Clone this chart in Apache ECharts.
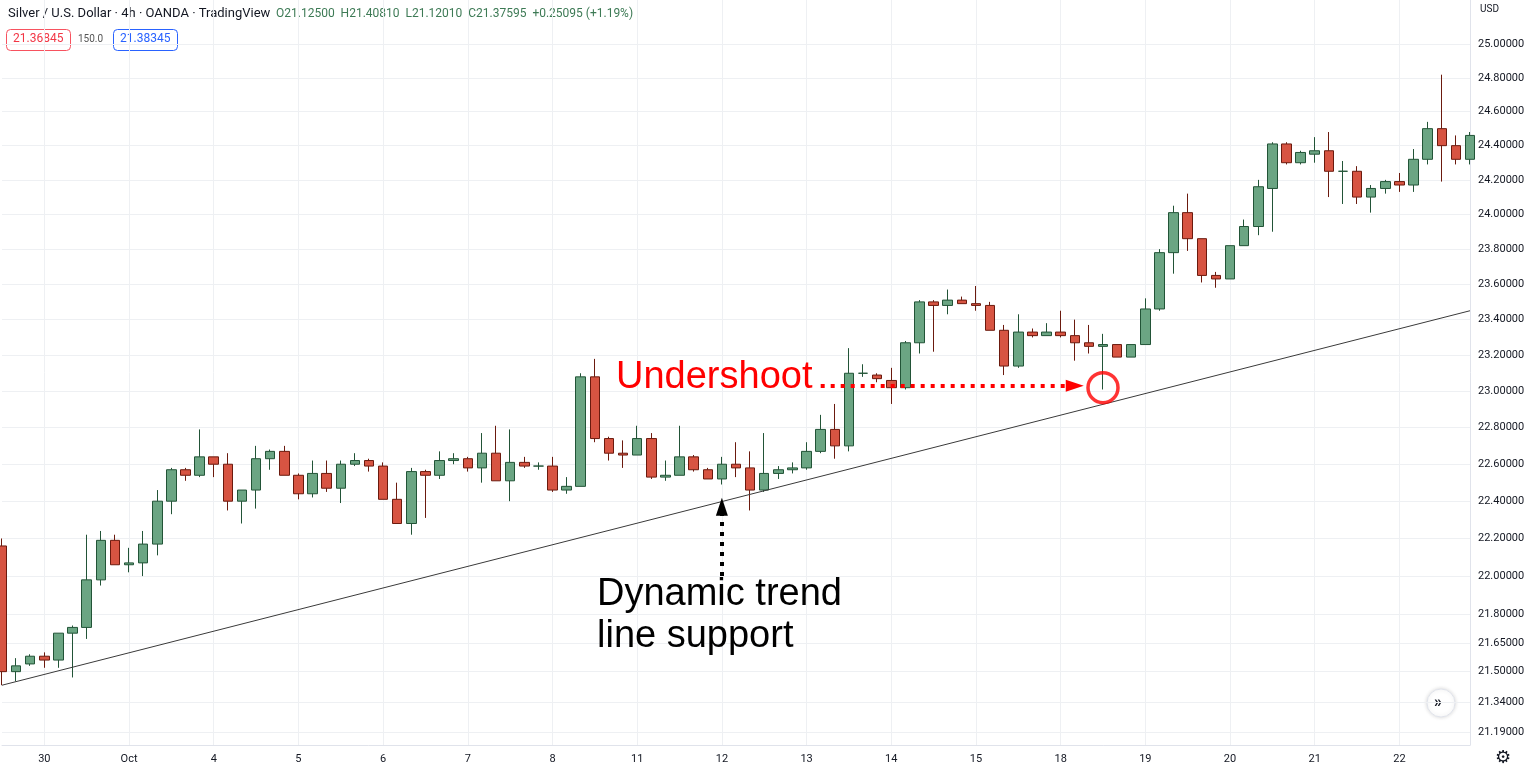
<!DOCTYPE html>
<html><head><meta charset="utf-8">
<script src="https://cdn.jsdelivr.net/npm/echarts@6/dist/echarts.min.js"></script>
<style>html,body{margin:0;padding:0;background:#fff}#c{width:1536px;height:774px}</style>
</head><body><div id="c"></div>
<script>
const dayLabels=['30','Oct','4','5','6','7','8','11','12','13','14','15','18','19','20','21','22'];
const opens=[22.16,21.50,21.54,21.58,21.56,21.70,21.73,21.98,22.19,22.06,22.07,22.17,22.40,22.57,22.54,22.64,22.60,22.40,22.46,22.63,22.67,22.54,22.44,22.55,22.47,22.60,22.62,22.59,22.41,22.28,22.56,22.54,22.62,22.63,22.58,22.66,22.51,22.61,22.59,22.59,22.46,22.48,23.08,22.74,22.66,22.65,22.74,22.53,22.54,22.64,22.57,22.52,22.60,22.58,22.46,22.55,22.57,22.58,22.67,22.79,22.70,23.10,23.09,23.06,23.02,23.27,23.50,23.48,23.51,23.49,23.48,23.34,23.14,23.33,23.31,23.33,23.31,23.27,23.25,23.26,23.19,23.26,23.46,23.78,24.01,23.86,23.65,23.63,23.82,23.93,24.15,24.41,24.30,24.35,24.37,24.25,24.25,24.10,24.15,24.19,24.17,24.32,24.50,24.40,24.32];
const closes=[21.50,21.53,21.58,21.56,21.70,21.73,21.98,22.19,22.06,22.07,22.17,22.40,22.57,22.54,22.64,22.60,22.40,22.46,22.63,22.67,22.54,22.44,22.55,22.47,22.60,22.62,22.59,22.41,22.28,22.56,22.54,22.62,22.63,22.58,22.66,22.51,22.61,22.59,22.59,22.46,22.48,23.08,22.74,22.66,22.65,22.74,22.53,22.54,22.64,22.57,22.52,22.60,22.58,22.46,22.55,22.57,22.58,22.67,22.79,22.70,23.10,23.10,23.07,23.02,23.27,23.50,23.48,23.51,23.49,23.48,23.34,23.14,23.33,23.31,23.33,23.31,23.27,23.25,23.26,23.19,23.26,23.46,23.78,24.01,23.86,23.65,23.63,23.82,23.93,24.16,24.41,24.30,24.36,24.37,24.25,24.25,24.10,24.15,24.19,24.17,24.32,24.50,24.40,24.32,24.46];
const lows=[21.43,21.45,21.53,21.52,21.52,21.47,21.67,21.95,22.06,22.02,22.00,22.11,22.33,22.51,22.53,22.53,22.35,22.28,22.36,22.57,22.54,22.41,22.42,22.45,22.39,22.59,22.56,22.41,22.28,22.22,22.31,22.52,22.60,22.56,22.50,22.51,22.40,22.58,22.57,22.45,22.44,22.48,22.72,22.62,22.58,22.65,22.52,22.51,22.54,22.56,22.52,22.49,22.53,22.35,22.45,22.52,22.55,22.57,22.66,22.63,22.67,23.08,23.05,22.93,23.01,23.21,23.22,23.43,23.49,23.45,23.34,23.09,23.13,23.30,23.31,23.30,23.17,23.21,23.01,23.19,23.19,23.26,23.45,23.66,23.79,23.61,23.58,23.63,23.82,23.88,23.90,24.29,24.29,24.30,24.10,24.06,24.06,24.01,24.12,24.13,24.13,24.29,24.19,24.29,24.29];
const highs=[22.20,21.57,21.59,21.60,21.70,21.74,22.22,22.24,22.22,22.15,22.24,22.46,22.58,22.58,22.79,22.64,22.66,22.46,22.70,22.68,22.70,22.55,22.62,22.62,22.62,22.66,22.63,22.61,22.50,22.58,22.57,22.67,22.66,22.64,22.77,22.81,22.79,22.64,22.61,22.64,22.53,23.10,23.18,22.75,22.73,22.81,22.77,22.62,22.81,22.65,22.58,22.64,22.72,22.67,22.77,22.59,22.61,22.72,22.87,22.93,23.24,23.15,23.10,23.13,23.28,23.51,23.51,23.57,23.53,23.59,23.50,23.37,23.43,23.35,23.38,23.45,23.40,23.37,23.32,23.26,23.26,23.52,23.80,24.05,24.12,23.86,23.67,23.82,23.97,24.20,24.42,24.42,24.37,24.45,24.48,24.31,24.28,24.17,24.20,24.24,24.38,24.54,24.82,24.46,24.48];
const priceTicks=[25.00,24.80,24.60,24.40,24.20,24.00,23.80,23.60,23.40,23.20,23.00,22.80,22.60,22.40,22.20,22.00,21.80,21.65,21.50,21.34,21.19];
const trendLine=[[0,21.43],[104,23.45]];
const undershootArrow=[[58.1,23.03],[76.1,23.03]];
const undershootPoint=[78,23.02];
const supportArrow=[[51.2,22.00],[51.2,22.37]];

const cats=opens.map((_,i)=>{const d=i<3?'29':dayLabels[Math.floor((i-3)/6)];return d+'#'+i;});
const ohlc=opens.map((o,i)=>[o,closes[i],lows[i],highs[i]]);
const showIdx=i=>i>=3&&(i-3)%6===0;

const chart=echarts.init(document.getElementById('c'));
chart.setOption({
  animation:false,
  grid:{left:2,right:66,top:0,bottom:29},
  xAxis:{type:'category',data:cats,boundaryGap:false,
    axisLine:{show:true,lineStyle:{color:'#e0e3eb'}},axisTick:{show:false},
    axisLabel:{interval:(i)=>showIdx(i),formatter:v=>v.split('#')[0],color:'#131722',fontSize:11,fontFamily:'Roboto',margin:9},
    splitLine:{show:true,interval:(i)=>showIdx(i),lineStyle:{color:'#eef0f3'}}},
  yAxis:{type:'log',logBase:10,min:21.124,max:25.27,position:'right',
    axisLine:{show:true,lineStyle:{color:'#e0e3eb'}},axisTick:{show:false},axisLabel:{show:false},splitLine:{show:false}},
  series:[
    {type:'line',data:[],z:0,silent:true,
      markLine:{silent:true,symbol:'none',z:0,
        lineStyle:{color:'#eef0f3',width:1,type:'solid'},
        label:{position:'end',distance:8,color:'#131722',fontSize:11,fontFamily:'Roboto',formatter:p=>p.value.toFixed(5)},
        data:priceTicks.map(v=>({yAxis:v}))}},
    {type:'candlestick',data:ohlc,barWidth:10,z:3,
      itemStyle:{color:'#6ba583',color0:'#d75442',borderColor:'#225437',borderColor0:'#6b1a0e',borderWidth:1}},
    {type:'line',data:trendLine,symbol:'none',lineStyle:{color:'#3a3a3a',width:1},z:4},
    {type:'line',data:undershootArrow,symbol:'none',lineStyle:{width:0},z:5,
      markLine:{silent:true,symbol:['none','triangle'],symbolSize:[12,18],
        lineStyle:{color:'#ff0000',width:4,type:[4,6]},label:{show:false},
        data:[[{coord:undershootArrow[0]},{coord:undershootArrow[1]}]]}},
    {type:'line',data:supportArrow,symbol:'none',lineStyle:{width:0},z:5,
      markLine:{silent:true,symbol:['none','triangle'],symbolSize:[12,18],
        lineStyle:{color:'#000',width:4,type:[4,6]},label:{show:false},
        data:[[{coord:supportArrow[0]},{coord:supportArrow[1]}]]}},
    {type:'scatter',data:[undershootPoint],symbol:'circle',symbolSize:30,z:6,
      itemStyle:{color:'rgba(0,0,0,0)',borderColor:'#ff0000',borderWidth:3.5}}
  ],
  graphic:[
    {type:'text',left:8,top:7,style:{text:'Silver / U.S. Dollar · 4h · OANDA · TradingView',fill:'#131722',font:'13px Roboto'}},
    {type:'text',left:276,top:8,style:{text:'O21.12500  H21.40810  L21.12010  C21.37595  +0.25095 (+1.19%)',fill:'#3d7a55',font:'12px Roboto'}},
    {type:'rect',left:6,top:29,shape:{width:64,height:21,r:4},style:{fill:'#fff',stroke:'#f7525f',lineWidth:1}},
    {type:'text',left:13,top:33,style:{text:'21.36845',fill:'#f23645',font:'12px Roboto'}},
    {type:'text',left:78,top:34,style:{text:'150.0',fill:'#555',font:'10px Roboto'}},
    {type:'rect',left:113,top:29,shape:{width:64,height:21,r:4},style:{fill:'#fff',stroke:'#2962ff',lineWidth:1}},
    {type:'text',left:120,top:33,style:{text:'21.38345',fill:'#2962ff',font:'12px Roboto'}},
    {type:'text',left:1480,top:4,style:{text:'USD',fill:'#131722',font:'10px Roboto'}},
    {type:'text',left:616,top:359,z:10,style:{text:'Undershoot',fill:'#ff0000',font:'38px Arial, Liberation Sans'}},
    {type:'text',left:597,top:574,z:10,style:{text:'Dynamic trend\nline support',fill:'#000',font:'38px Arial, Liberation Sans',align:'center',lineHeight:42}},
    {type:'circle',shape:{cx:1441,cy:703,r:14},style:{fill:'#fff',stroke:'#e0e3eb',lineWidth:1,shadowBlur:4,shadowColor:'rgba(0,0,0,0.15)'}},
    {type:'text',left:1434,top:695,style:{text:'»',fill:'#131722',font:'bold 16px Roboto'}},
    {type:'text',left:1495,top:749,style:{text:'⚙',fill:'#131722',font:'18px DejaVu Sans'}}
  ]
});
</script></body></html>
